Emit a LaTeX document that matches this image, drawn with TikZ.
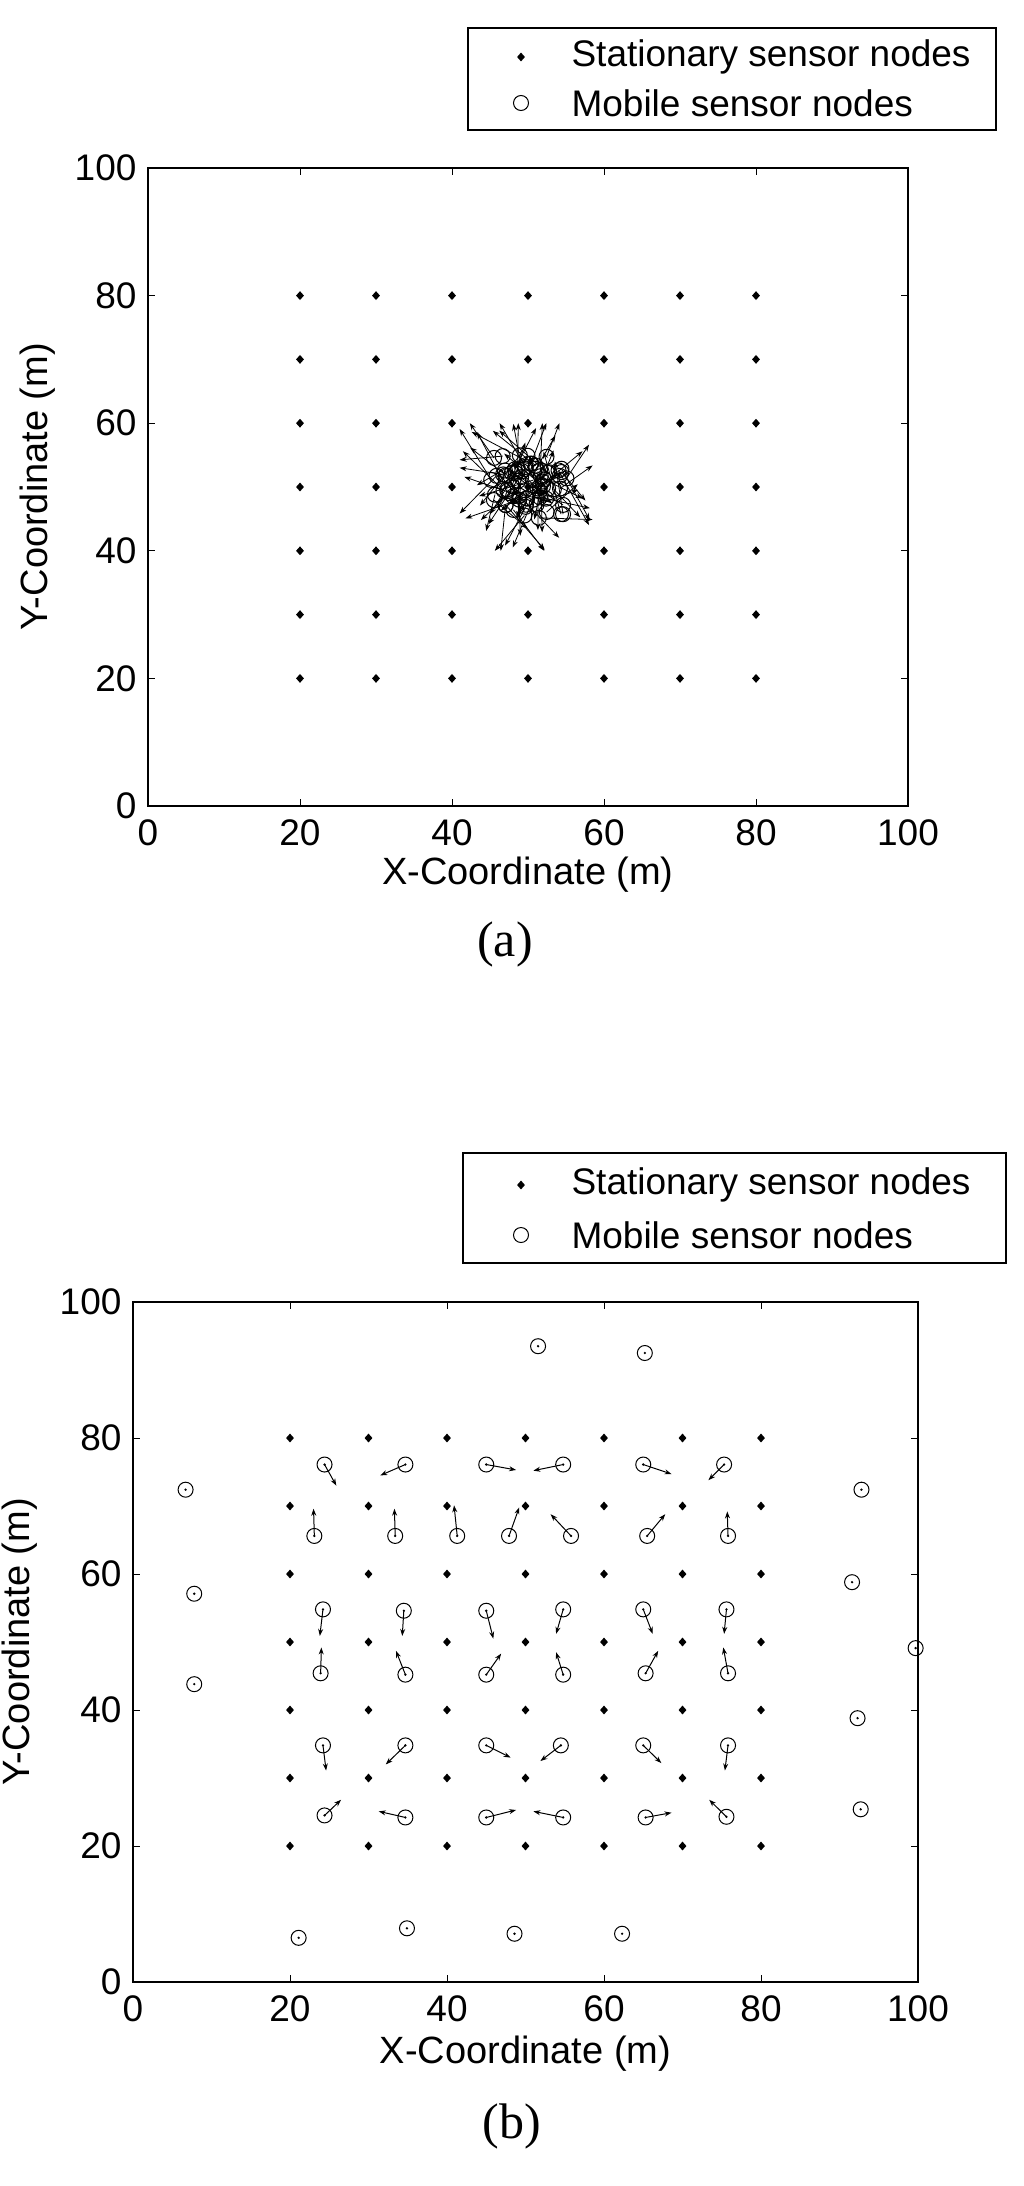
\documentclass[tikz,border=0pt]{standalone}
\usepackage{fontspec}
\setmainfont{Liberation Sans}
\newfontfamily\capfont{Liberation Serif}
\usetikzlibrary{arrows.meta,shapes.geometric}
\tikzset{
  stat/.style={fill=black,inner sep=0pt,minimum width=8pt,minimum height=9pt,shape=diamond},
  mob/.style={draw=black,line width=1pt,circle,inner sep=0pt,minimum size=15pt},
  mv/.style={line width=1pt,-{Stealth[length=7pt,width=5pt]}},
  frame/.style={line width=1.4pt},
  ticklab/.style={font=\fontsize{37}{37}\selectfont},
  axlab/.style={font=\fontsize{38}{38}\selectfont},
  legtxt/.style={font=\fontsize{37}{37}\selectfont,anchor=west},
  caplab/.style={font=\capfont\fontsize{50}{50}\selectfont}
}
\newcount\mobk
\newcommand{\myaxes}[1]{%
  \draw[frame] (0,0) rectangle (100,100);
  \foreach \t in {0,20,...,100}{
    \draw[line width=1pt] (\t,0) -- ++(0,7pt);
    \draw[line width=1pt] (\t,100) -- ++(0,-7pt);
    \draw[line width=1pt] (0,\t) -- ++(7pt,0);
    \draw[line width=1pt] (100,\t) -- ++(-7pt,0);
    \node[ticklab] (#1xl\t) at ([yshift=-27pt]\t,0) {\t};
    \node[ticklab,anchor=east] (#1yl\t) at ([xshift=-8pt]0,\t) {\t};
  }
  \foreach \i in {20,30,...,80}{\foreach \j in {20,30,...,80}{
    \node[stat] (#1s\i-\j) at (\i,\j) {};}}
}
\newcommand{\mobnode}[4]{%
  \global\advance\mobk by 1
  \node[mob] (m\the\mobk) at (#1,#2) {};
  \fill (#1,#2) circle[radius=1.3pt];
  \coordinate (e\the\mobk) at (#3,#4);
  \draw[mv] (m\the\mobk.center) -- (e\the\mobk);
}
\begin{document}
\begin{tikzpicture}
\useasboundingbox[fill=white] (0,0) rectangle (1024pt,-2186pt);
% ---------- plot (a) ----------
\draw[line width=1.2pt] (468pt,-28pt) rectangle (996pt,-130pt);
\node[stat] (la1) at (521pt,-57pt) {};
\node[legtxt] (lt1) at (568pt,-57pt) {Stationary sensor nodes};
\node[mob] (la2) at (521pt,-103pt) {};
\node[legtxt] (lt2) at (568pt,-103pt) {Mobile sensor nodes};
\begin{scope}[shift={(148pt,-806pt)},x=7.6pt,y=6.38pt]
  \myaxes{a}
  \node[axlab] (xa) at (50,-10.8) {X-Coordinate (m)};
  \node[axlab,rotate=90] (ya) at (-14.5,50) {Y-Coordinate (m)};
  \pgfmathsetseed{5}
  \foreach \k in {1,...,70}{
    \pgfmathsetmacro{\cx}{50+5.5*rand}
    \pgfmathsetmacro{\cy}{50+5*rand}
    \pgfmathsetmacro{\an}{180*rand}
    \pgfmathsetmacro{\ln}{5+4*rnd}
    \pgfmathsetmacro{\ex}{min(58.5,max(41,\cx+\ln*cos(\an)))}
    \pgfmathsetmacro{\ey}{min(60,max(40,\cy+1.15*\ln*sin(\an)))}
    \node[mob] (c\k) at (\cx,\cy) {};
    \coordinate (d\k) at (\ex,\ey);
    \draw[mv,line width=0.8pt] (c\k.center) -- (d\k);
  }
\end{scope}
\node[caplab] (ca) at (505pt,-944pt) {(a)};
% ---------- plot (b) ----------
\draw[line width=1.2pt] (463pt,-1153pt) rectangle (1006pt,-1263pt);
\node[stat] (lb1) at (521pt,-1185pt) {};
\node[legtxt] (lu1) at (568pt,-1185pt) {Stationary sensor nodes};
\node[mob] (lb2) at (521pt,-1235pt) {};
\node[legtxt] (lu2) at (568pt,-1235pt) {Mobile sensor nodes};
\begin{scope}[shift={(133pt,-1982pt)},x=7.85pt,y=6.8pt]
  \myaxes{b}
  \node[axlab] (xb) at (50,-10.5) {X-Coordinate (m)};
  \node[axlab,rotate=90] (yb) at (-14.5,50) {Y-Coordinate (m)};
  \foreach \a/\b [count=\q] in {6.7/72.4,7.8/57.1,7.8/43.8,51.6/93.5,65.2/92.5,92.8/72.4,91.6/58.8,99.7/49.1,92.3/38.8,92.7/25.4,21.1/6.5,34.9/7.9,48.6/7.1,62.3/7.1}{
    \node[mob] (p\q) at (\a,\b) {};
    \fill (\a,\b) circle[radius=1.3pt];}
  \mobnode{24.4}{76.1}{25.9}{73.0}
  \mobnode{34.7}{76.1}{31.5}{74.5}
  \mobnode{45.0}{76.1}{48.8}{75.3}
  \mobnode{54.8}{76.1}{51.0}{75.2}
  \mobnode{65.0}{76.1}{68.6}{74.7}
  \mobnode{75.3}{76.1}{73.3}{73.8}
  \mobnode{23.1}{65.6}{23.0}{69.6}
  \mobnode{33.4}{65.6}{33.3}{69.6}
  \mobnode{41.3}{65.6}{40.9}{70.1}
  \mobnode{47.9}{65.6}{49.2}{69.8}
  \mobnode{55.8}{65.6}{53.2}{68.8}
  \mobnode{65.5}{65.6}{67.8}{68.8}
  \mobnode{75.8}{65.6}{75.7}{69.2}
  \mobnode{24.2}{54.8}{23.8}{50.9}
  \mobnode{34.5}{54.6}{34.3}{50.9}
  \mobnode{45.0}{54.6}{45.9}{50.5}
  \mobnode{54.8}{54.8}{53.9}{51.2}
  \mobnode{65.0}{54.8}{66.2}{51.2}
  \mobnode{75.6}{54.8}{75.3}{51.2}
  \mobnode{23.9}{45.4}{24.0}{49.2}
  \mobnode{34.7}{45.2}{33.5}{48.7}
  \mobnode{45.0}{45.2}{46.9}{48.3}
  \mobnode{54.8}{45.2}{53.9}{48.5}
  \mobnode{65.3}{45.4}{66.9}{48.7}
  \mobnode{75.8}{45.4}{75.2}{49.2}
  \mobnode{24.2}{34.8}{24.6}{31.1}
  \mobnode{34.7}{34.8}{32.2}{32.0}
  \mobnode{45.0}{34.8}{48.1}{33.0}
  \mobnode{54.5}{34.8}{51.9}{32.5}
  \mobnode{65.0}{34.8}{67.3}{32.2}
  \mobnode{75.8}{34.8}{75.4}{31.1}
  \mobnode{24.4}{24.5}{26.5}{26.8}
  \mobnode{34.7}{24.2}{31.3}{25.1}
  \mobnode{45.0}{24.2}{48.8}{25.3}
  \mobnode{54.8}{24.2}{51.0}{25.1}
  \mobnode{65.3}{24.2}{68.6}{24.9}
  \mobnode{75.6}{24.3}{73.4}{26.8}
\end{scope}
\node[caplab] (cb) at (512pt,-2126pt) {(b)};
\end{tikzpicture}
\end{document}
